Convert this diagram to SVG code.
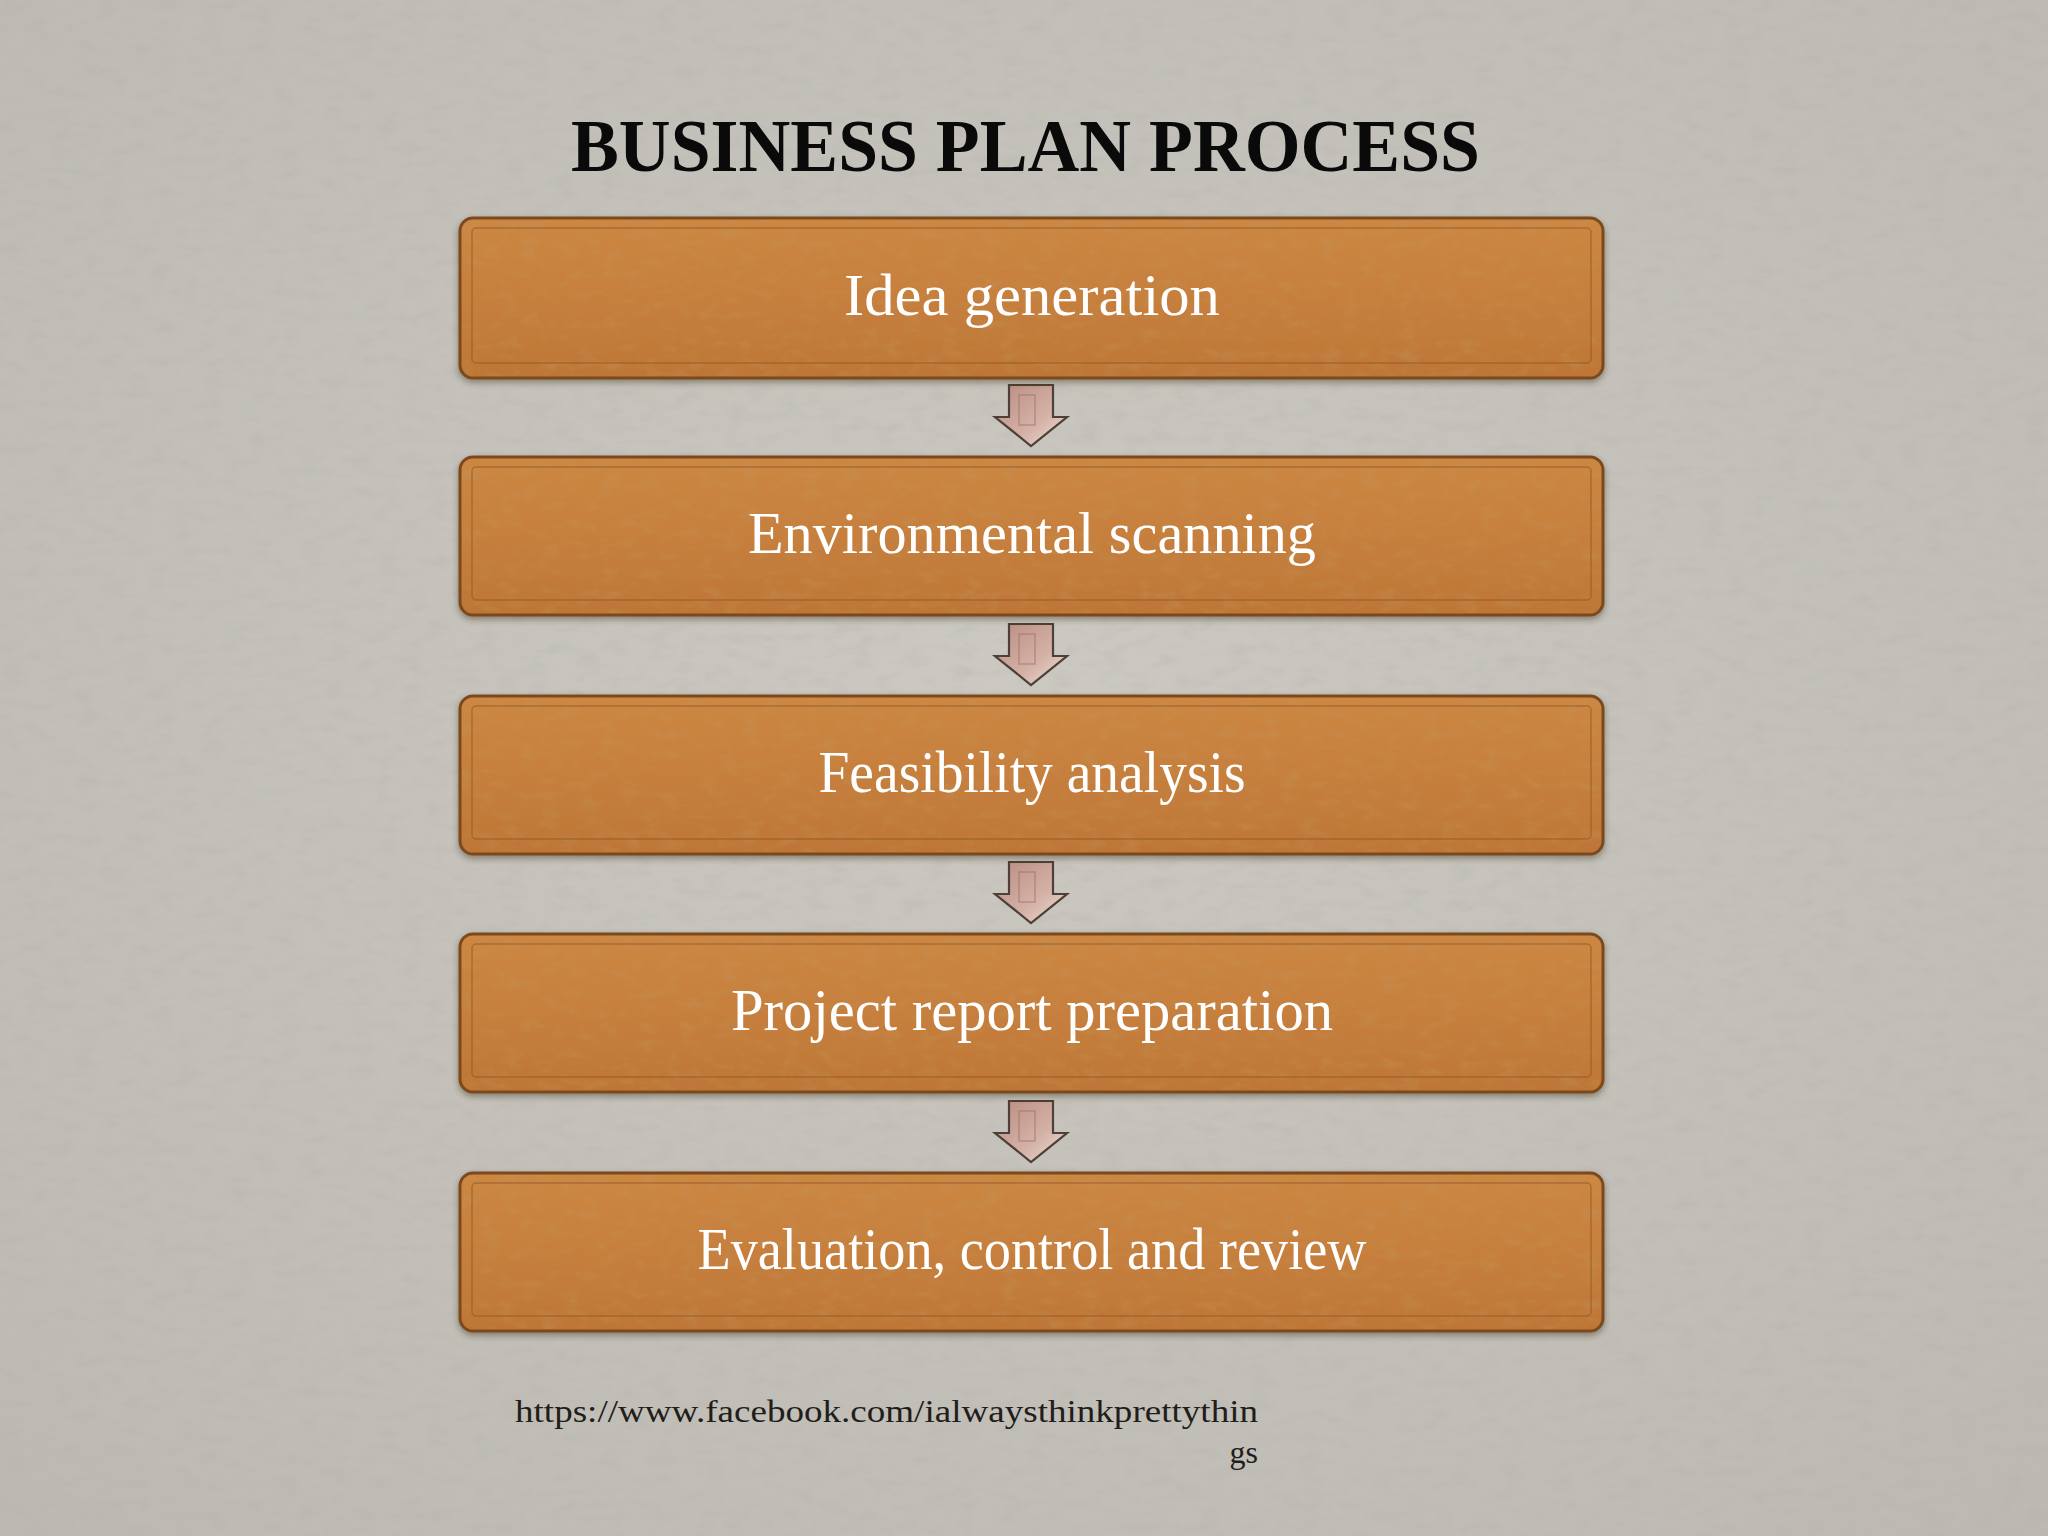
<svg xmlns="http://www.w3.org/2000/svg" width="2048" height="1536" viewBox="0 0 2048 1536">
<defs>
<filter id="paper" x="0" y="0" width="100%" height="100%">
<feTurbulence type="fractalNoise" baseFrequency="0.04 0.09" numOctaves="3" seed="4" result="n"/>
<feColorMatrix in="n" type="matrix" values="0 0 0 0 0.45  0 0 0 0 0.44  0 0 0 0 0.40  0 0 0 -1.4 0.75" result="m"/>
<feComposite in="m" in2="SourceGraphic" operator="in"/>
</filter>
<filter id="grain" x="0" y="0" width="100%" height="100%">
<feTurbulence type="fractalNoise" baseFrequency="0.05 0.1" numOctaves="3" seed="9" result="n"/>
<feColorMatrix in="n" type="matrix" values="0 0 0 0 0.55  0 0 0 0 0.30  0 0 0 0 0.10  0 0 0 -1.6 0.85" result="m"/>
<feComposite in="m" in2="SourceGraphic" operator="in"/>
</filter>
<filter id="shadow" x="-5%" y="-10%" width="110%" height="130%">
<feDropShadow dx="0" dy="3" stdDeviation="3" flood-color="#3a2a18" flood-opacity="0.45"/>
</filter>
<linearGradient id="boxFill" x1="0" y1="0" x2="0" y2="1">
<stop offset="0" stop-color="#cc8743"/>
<stop offset="0.5" stop-color="#c67f3d"/>
<stop offset="1" stop-color="#bd7636"/>
</linearGradient>
<linearGradient id="arrowFill" x1="0" y1="0" x2="1" y2="1">
<stop offset="0" stop-color="#b98c80"/>
<stop offset="0.6" stop-color="#d4b1a6"/>
<stop offset="1" stop-color="#efe0d8"/>
</linearGradient>
<radialGradient id="bgGrad" cx="0.5" cy="0.45" r="0.75">
<stop offset="0" stop-color="#cbc9c2"/>
<stop offset="1" stop-color="#bbb9b1"/>
</radialGradient>
<symbol id="arrow" viewBox="0 0 72 62" overflow="visible">
<path d="M14 0 H58 V32 H72 L36 61 L0 32 H14 Z" fill="url(#arrowFill)" stroke="#4d4038" stroke-width="2.2" stroke-linejoin="miter"/>
<path d="M24 10 H40 V40 H24 Z" fill="none" stroke="#9a6c62" stroke-width="1.5" opacity="0.5"/>
</symbol>
</defs>
<style>
.box{fill:url(#boxFill);stroke:#7c4a1f;stroke-width:3;}
.tex{fill:#fff;filter:url(#grain);opacity:0.55;}
.inner{fill:none;stroke:#8f5522;stroke-width:1.5;opacity:0.55;}
.lbl{font-family:"Liberation Serif","DejaVu Serif",serif;font-size:60px;fill:#ffffff;text-anchor:middle;}
.title{font-family:"Liberation Serif","DejaVu Serif",serif;font-weight:bold;font-size:73px;fill:#0a0a0a;}
.foot{font-family:"Liberation Serif","DejaVu Serif",serif;font-size:32px;fill:#221d1a;}
</style>
<rect width="2048" height="1536" fill="url(#bgGrad)"/>
<rect width="2048" height="1536" fill="#fff" filter="url(#paper)" opacity="0.5"/>
<text class="title" x="571" y="171" textLength="909" lengthAdjust="spacingAndGlyphs">BUSINESS PLAN PROCESS</text>
<g id="connectors">
<use href="#arrow" x="995" y="385" width="72" height="62"/>
<use href="#arrow" x="995" y="624" width="72" height="62"/>
<use href="#arrow" x="995" y="862" width="72" height="62"/>
<use href="#arrow" x="995" y="1101" width="72" height="62"/>
</g>
<g id="node1" filter="url(#shadow)">
<rect class="box" x="460" y="218" width="1143" height="160" rx="13"/>
<rect class="tex" x="462" y="220" width="1139" height="156" rx="12"/>
<rect class="inner" x="472" y="228" width="1119" height="135" rx="4"/>
<text class="lbl" x="1032" y="315" textLength="376" lengthAdjust="spacingAndGlyphs">Idea generation</text>
</g>
<g id="node2" filter="url(#shadow)">
<rect class="box" x="460" y="457" width="1143" height="158" rx="13"/>
<rect class="tex" x="462" y="459" width="1139" height="154" rx="12"/>
<rect class="inner" x="472" y="467" width="1119" height="133" rx="4"/>
<text class="lbl" x="1032" y="553" textLength="568" lengthAdjust="spacingAndGlyphs">Environmental scanning</text>
</g>
<g id="node3" filter="url(#shadow)">
<rect class="box" x="460" y="696" width="1143" height="158" rx="13"/>
<rect class="tex" x="462" y="698" width="1139" height="154" rx="12"/>
<rect class="inner" x="472" y="706" width="1119" height="133" rx="4"/>
<text class="lbl" x="1032" y="792" textLength="427" lengthAdjust="spacingAndGlyphs">Feasibility analysis</text>
</g>
<g id="node4" filter="url(#shadow)">
<rect class="box" x="460" y="934" width="1143" height="158" rx="13"/>
<rect class="tex" x="462" y="936" width="1139" height="154" rx="12"/>
<rect class="inner" x="472" y="944" width="1119" height="133" rx="4"/>
<text class="lbl" x="1032" y="1030" textLength="602" lengthAdjust="spacingAndGlyphs">Project report preparation</text>
</g>
<g id="node5" filter="url(#shadow)">
<rect class="box" x="460" y="1173" width="1143" height="158" rx="13"/>
<rect class="tex" x="462" y="1175" width="1139" height="154" rx="12"/>
<rect class="inner" x="472" y="1183" width="1119" height="133" rx="4"/>
<text class="lbl" x="1032" y="1269" textLength="669" lengthAdjust="spacingAndGlyphs">Evaluation, control and review</text>
</g>
<g id="footer">
<text class="foot" x="515" y="1422" textLength="743" lengthAdjust="spacingAndGlyphs">https://www.facebook.com/ialwaysthinkprettythin</text>
<text class="foot" x="1258" y="1463" text-anchor="end">gs</text>
</g>
</svg>
